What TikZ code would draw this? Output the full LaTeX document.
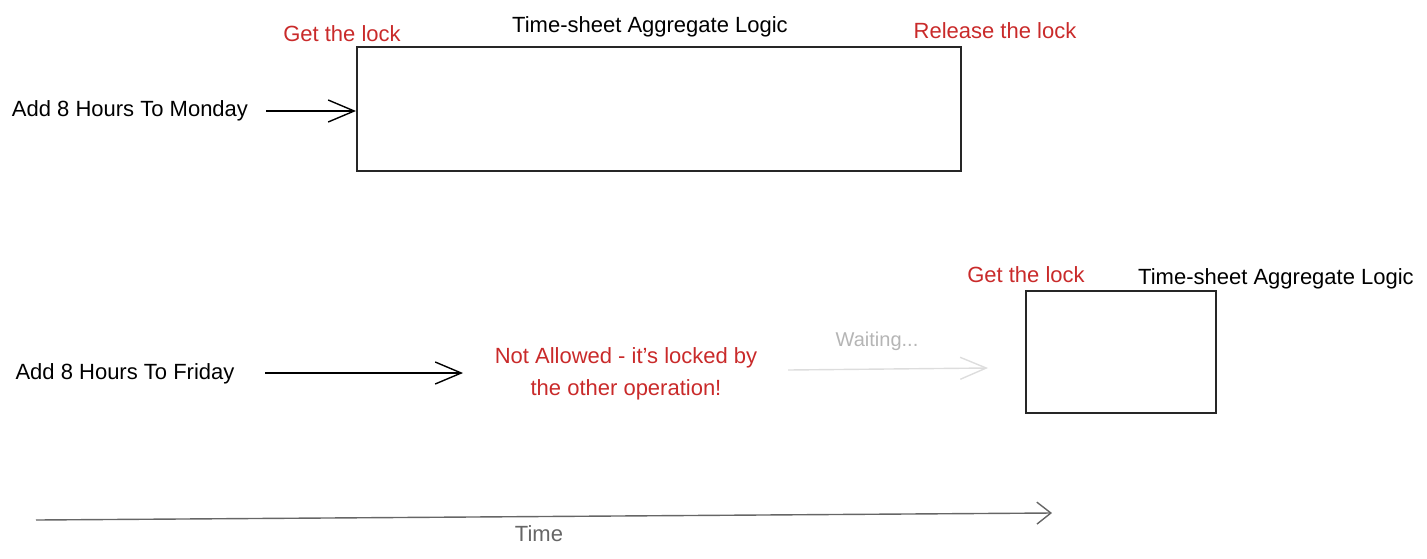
\documentclass[tikz,border=0pt]{standalone}
\usepackage{fontspec}
\setmainfont{Liberation Sans}
\usetikzlibrary{arrows.meta}
\definecolor{exred}{HTML}{C92A2A}
\definecolor{waitgray}{HTML}{B5B5B5}
\definecolor{waitline}{HTML}{DDDDDD}
\definecolor{timegray}{HTML}{666666}
\tikzset{
  lbl/.style={font=\fontsize{22}{26}\selectfont, inner sep=0pt, anchor=center},
  redlbl/.style={lbl, text=exred},
  opbox/.style={draw=black!85, line width=1.7pt},
  flow/.style={line width=1.4pt, -{Straight Barb[length=26pt,width=22pt,line width=1.4pt]}},
}
\begin{document}
\begin{tikzpicture}[x=1pt,y=-1pt]
\useasboundingbox (0,0) rectangle (1427,558);
% top row
\node[opbox, minimum width=604pt, minimum height=124pt, anchor=north west] (box1) at (356,46) {};
\node[lbl] (title1) at (650,27) {Time-sheet Aggregate Logic};
\node[redlbl] (get1) at (342,34) {Get the lock};
\node[redlbl] (rel1) at (995,31) {Release the lock};
\node[lbl] (mon) at (130,111) {Add 8 Hours To Monday};
\coordinate (monstart) at (266,111);
\draw[flow] (monstart) -- (box1.west |- monstart);
% bottom row
\node[lbl] (fri) at (125,374) {Add 8 Hours To Friday};
\node[redlbl, align=center, font=\fontsize{22}{32}\selectfont] (notal) at (626,374) {Not Allowed - it's locked by\\the other operation!};
\coordinate (fristart) at (265,373);
\coordinate (friend) at (463,373);
\draw[flow] (fristart) -- (friend);
\node[lbl, text=waitgray, font=\fontsize{20}{24}\selectfont] (wait) at (877,341) {Waiting...};
\coordinate (waitstart) at (788,370);
\coordinate (waitend) at (988,368);
\draw[flow, draw=waitline] (waitstart) -- (waitend);
\node[opbox, minimum width=190pt, minimum height=122pt, anchor=north west] (box2) at (1025,290) {};
\node[redlbl] (get2) at (1026,275) {Get the lock};
\node[lbl] (title2) at (1276,279) {Time-sheet Aggregate Logic};
% time axis
\coordinate (t0) at (36,520);
\coordinate (t1) at (1052,513);
\draw[line width=1.4pt, draw=timegray, -{Straight Barb[length=14pt,width=22pt,line width=1.4pt]}] (t0) -- (t1);
\node[lbl, text=timegray] (time) at (539,534) {Time};
\end{tikzpicture}
\end{document}
